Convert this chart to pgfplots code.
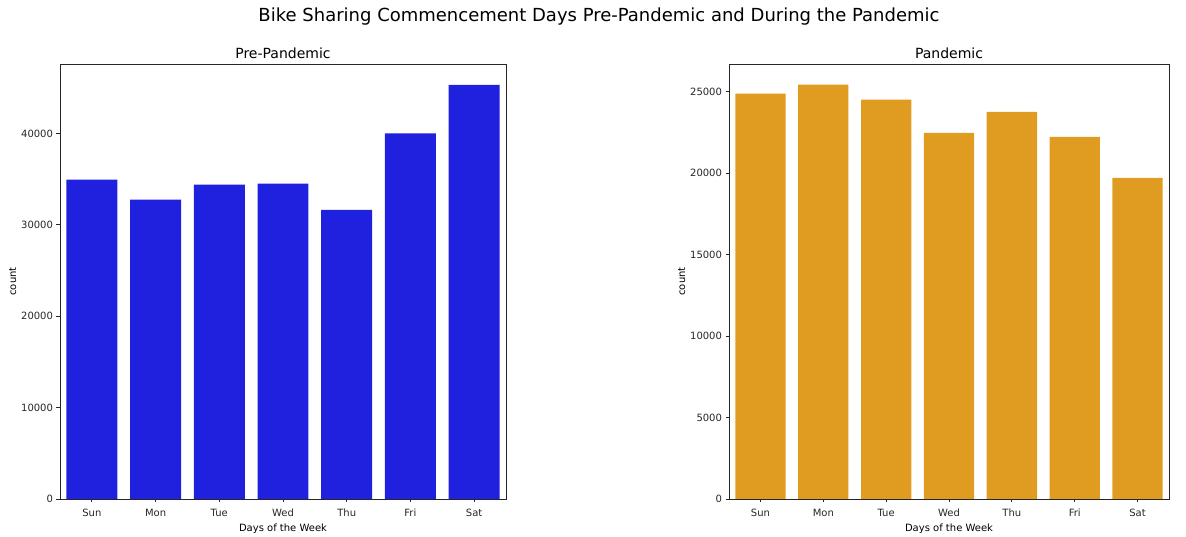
\documentclass[border=0pt]{standalone}
\usepackage{pgfplots}
\pgfplotsset{compat=1.18}
\usepackage{fontspec}
\setmainfont{DejaVu Sans}
\definecolor{sbblue}{RGB}{32,32,223}
\definecolor{sborange}{RGB}{223,156,32}
\definecolor{axgray}{RGB}{38,38,38}
\pgfplotsset{
  mybar/.style={
    scale only axis,
    width=446pt, height=435pt,
    anchor=south west,
    xmin=-0.5, xmax=6.5,
    ymin=0,
    xtick={0,1,2,3,4,5,6},
    xticklabels={Sun,Mon,Tue,Wed,Thu,Fri,Sat},
    xtick pos=bottom, ytick pos=left,
    tick align=outside,
    major tick length=3.5pt,
    every tick/.style={axgray, line width=0.8pt},
    axis line style={axgray, line width=0.8pt},
    tick label style={font=\fontsize{10}{12}\selectfont, text=axgray},
    xticklabel style={yshift=-3pt},
    label style={font=\fontsize{10}{12}\selectfont, text=black},
    /pgf/number format/assume math mode=true,
    /pgf/number format/1000 sep={},
    scaled y ticks=false,
    xlabel={Days of the Week},
    ylabel={count},
    xlabel style={yshift=0pt},
    ylabel style={yshift=-2pt},
    title style={font=\fontsize{14}{16}\selectfont, at={(0.5,1)}, anchor=south, yshift=-4pt},
    ybar, bar width=0.8,
  }
}
\begin{document}
\begin{tikzpicture}[x=1pt,y=1pt]
\useasboundingbox (0,0) rectangle (1186,537);
\node[font=\fontsize{18}{21}\selectfont] at (599,520) {Bike Sharing Commencement Days Pre-Pandemic and During the Pandemic};
\begin{axis}[mybar, at={(60pt,38pt)}, ymax=47610,
  ytick={0,10000,20000,30000,40000}, title={Pre-Pandemic}]
\addplot[fill=sbblue, draw=none] coordinates {(0,34960) (1,32760) (2,34410) (3,34520) (4,31650) (5,40020) (6,45330)};
\end{axis}
\begin{axis}[mybar, at={(729pt,38pt)}, width=440pt, ymax=26680,
  ytick={0,5000,10000,15000,20000,25000}, title={Pandemic}]
\addplot[fill=sborange, draw=none] coordinates {(0,24860) (1,25410) (2,24490) (3,22460) (4,23750) (5,22210) (6,19700)};
\end{axis}
\end{tikzpicture}
\end{document}
